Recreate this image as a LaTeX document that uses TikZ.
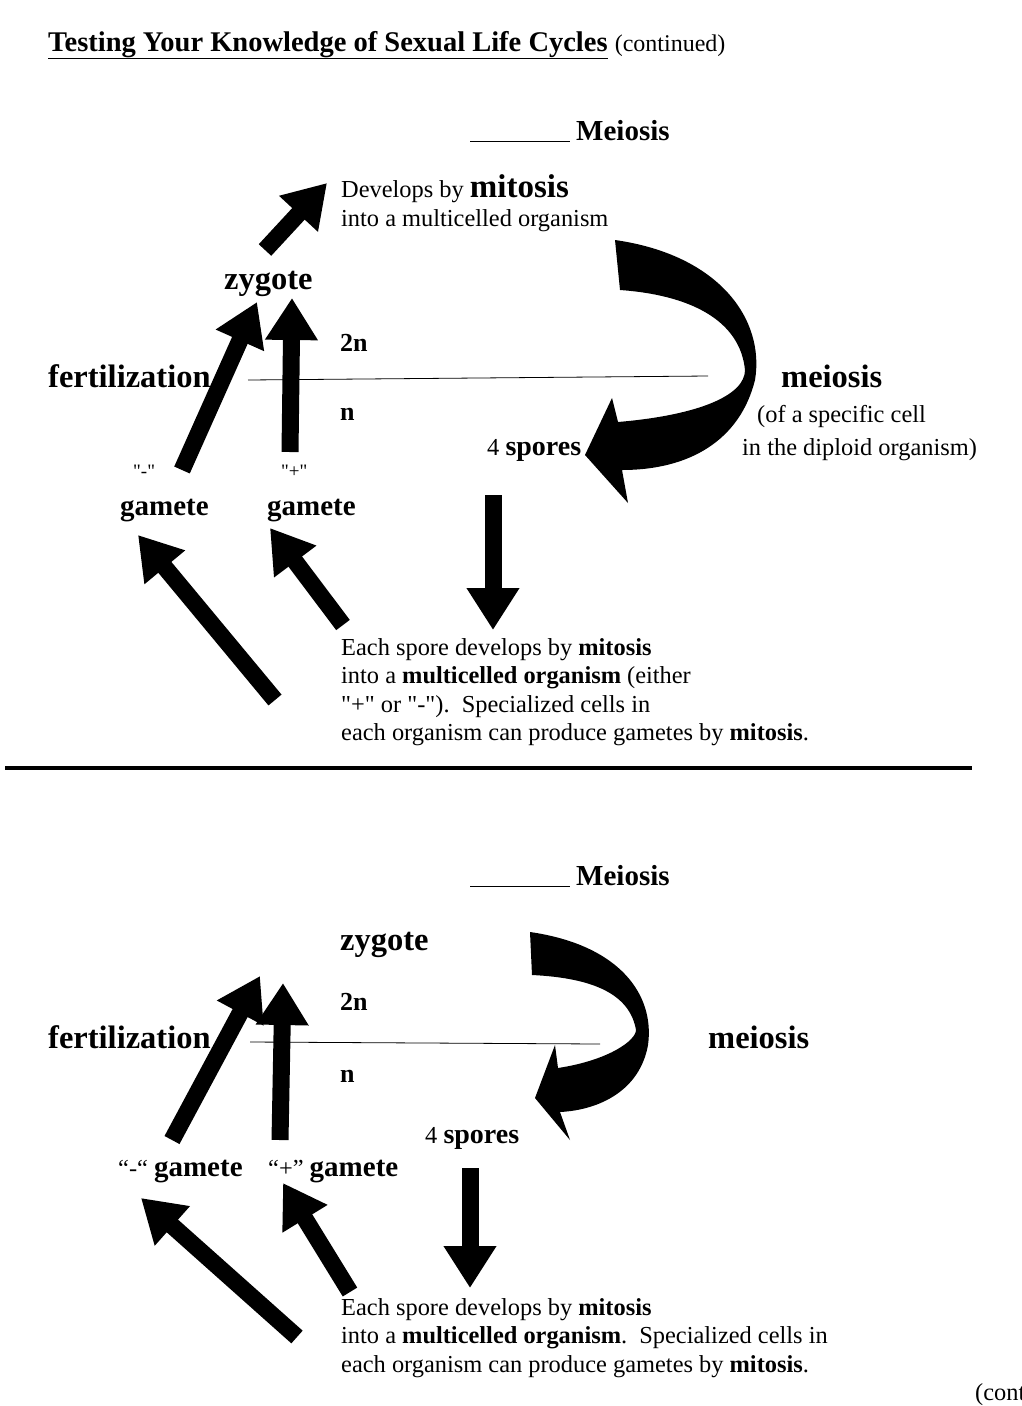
\documentclass[tikz,border=0pt]{standalone}
\usepackage{fontspec}
\setmainfont{Liberation Serif}
\usetikzlibrary{arrows.meta}
\begin{document}
\begin{tikzpicture}[x=1pt,y=-1pt,
  t/.style={anchor=base west,inner sep=0pt,font=\fontsize{24.4}{28.5}\selectfont,align=left},
  tm/.style={anchor=north west,inner sep=0pt,font=\fontsize{24.4}{28.5}\selectfont,align=left},
  big/.style={anchor=base west,inner sep=0pt,font=\fontsize{32.5}{34}\selectfont\bfseries},
  mid/.style={anchor=base west,inner sep=0pt,font=\fontsize{29}{30}\selectfont\bfseries},
  sm/.style={anchor=base west,inner sep=0pt,font=\fontsize{26}{30}\selectfont\bfseries},
  fat/.style={line width=17pt,-{Triangle[length=42pt,width=50pt]}}]
\useasboundingbox (0,0) rectangle (1022,1406);
\fill[white] (0,0) rectangle (1022,1406);
\def\q{\textquotedbl}
% title
\node[anchor=base west,inner sep=0pt,font=\fontsize{28.5}{30}\selectfont] (title) at (48,51) {\textbf{\underline{Testing Your Knowledge of Sexual Life Cycles}} {\fontsize{24}{30}\selectfont(continued)}};
%%% top panel
\node[mid] (m1) at (470,140) {\underline{\hspace{100pt}}\hspace{6pt}Meiosis};
\node[t] (dev) at (341,197) {Develops by {\fontsize{33}{30}\selectfont\bfseries mitosis}};
\node[t] (dev2) at (341,226) {into a multicelled organism};
\node[big] (z1) at (224,289) {zygote};
\node[sm] (2n1) at (340,351) {2n};
\node[sm] (n1) at (340,420) {n};
\node[big] (f1) at (48,387) {fertilization};
\node[big] (me1) at (781,387) {meiosis};
\node[t] (me1b) at (757,422) {(of a specific cell};
\node[t] (me1c) at (742,455) {in the diploid organism)};
\node[t] (sp1) at (487,455) {4 \textbf{\fontsize{28}{30}\selectfont spores}};
\node[t,font=\fontsize{19}{20}\selectfont] (q1) at (133,477) {\q-\q};
\node[t,font=\fontsize{19}{20}\selectfont] (q2) at (281,477) {\q+\q};
\node[mid] (g1) at (120,515) {gamete};
\node[mid] (g2) at (267,515) {gamete};
\node[tm] (each1) at (341,638) {Each spore develops by \textbf{mitosis}\\into a \textbf{multicelled organism} (either\\\q+\q{} or \q-\q).\ \ Specialized cells in\\each organism can produce gametes by \textbf{mitosis}.};
\draw[line width=0.8pt] (248,380) -- (708,376);
\coordinate (a1) at (265,250); \coordinate (a1t) at (327,183);
\coordinate (a2) at (182,470); \coordinate (a2t) at (257,302);
\coordinate (a3) at (290,452); \coordinate (a3t) at (292,298);
\coordinate (a4) at (493,495); \coordinate (a4t) at (493,630);
\coordinate (a5) at (275,700); \coordinate (a5t) at (138,535);
\coordinate (a6) at (343,625); \coordinate (a6t) at (270,528);
\foreach \s/\e in {a1/a1t,a2/a2t,a3/a3t,a4/a4t,a5/a5t,a6/a6t} \draw[fat] (\s) -- (\e);
\fill (615,240) .. controls (720,255) and (765,320) .. (755,380) .. controls (740,440) and (690,470) .. (622,470)
  -- (628,503) -- (585,455) -- (612,398) -- (618,422)
  .. controls (700,415) and (745,395) .. (745,370) .. controls (740,320) and (690,295) .. (620,290) -- cycle;
% separator
\draw[line width=4pt] (5,768) -- (972,768);
%%% bottom panel
\node[mid] (m2) at (470,885) {\underline{\hspace{100pt}}\hspace{6pt}Meiosis};
\node[big] (z2) at (340,950) {zygote};
\node[sm] (2n2) at (340,1010) {2n};
\node[sm] (n2) at (340,1082) {n};
\node[big] (f2) at (48,1048) {fertilization};
\node[big] (me2) at (708,1048) {meiosis};
\node[t] (sp2) at (425,1143) {4 \textbf{\fontsize{28}{30}\selectfont spores}};
\node[t] (g3) at (118,1176) {“-“ \textbf{\fontsize{29}{30}\selectfont gamete}};
\node[t] (g4) at (268,1176) {“+” \textbf{\fontsize{29}{30}\selectfont gamete}};
\node[tm] (each2) at (341,1298) {Each spore develops by \textbf{mitosis}\\into a \textbf{multicelled organism}.\ \ Specialized cells in\\each organism can produce gametes by \textbf{mitosis}.};
\node[t] (cont) at (975,1400) {(cont};
\draw[line width=0.8pt] (250,1042) -- (600,1044);
\coordinate (b1) at (172,1140); \coordinate (b1t) at (260,976);
\coordinate (b2) at (280,1140); \coordinate (b2t) at (283,983);
\coordinate (b3) at (470,1168); \coordinate (b3t) at (470,1288);
\coordinate (b4) at (297,1337); \coordinate (b4t) at (141,1198);
\coordinate (b5) at (350,1292); \coordinate (b5t) at (283,1183);
\foreach \s/\e in {b1/b1t,b2/b2t,b3/b3t,b4/b4t,b5/b5t} \draw[fat] (\s) -- (\e);
\fill (530,932) .. controls (620,945) and (655,995) .. (648,1045) .. controls (640,1090) and (600,1110) .. (560,1112)
  -- (570,1140) -- (535,1098) -- (555,1045) -- (558,1068)
  .. controls (610,1060) and (636,1040) .. (636,1030) .. controls (630,995) and (595,978) .. (532,975) -- cycle;
\end{tikzpicture}
\end{document}
